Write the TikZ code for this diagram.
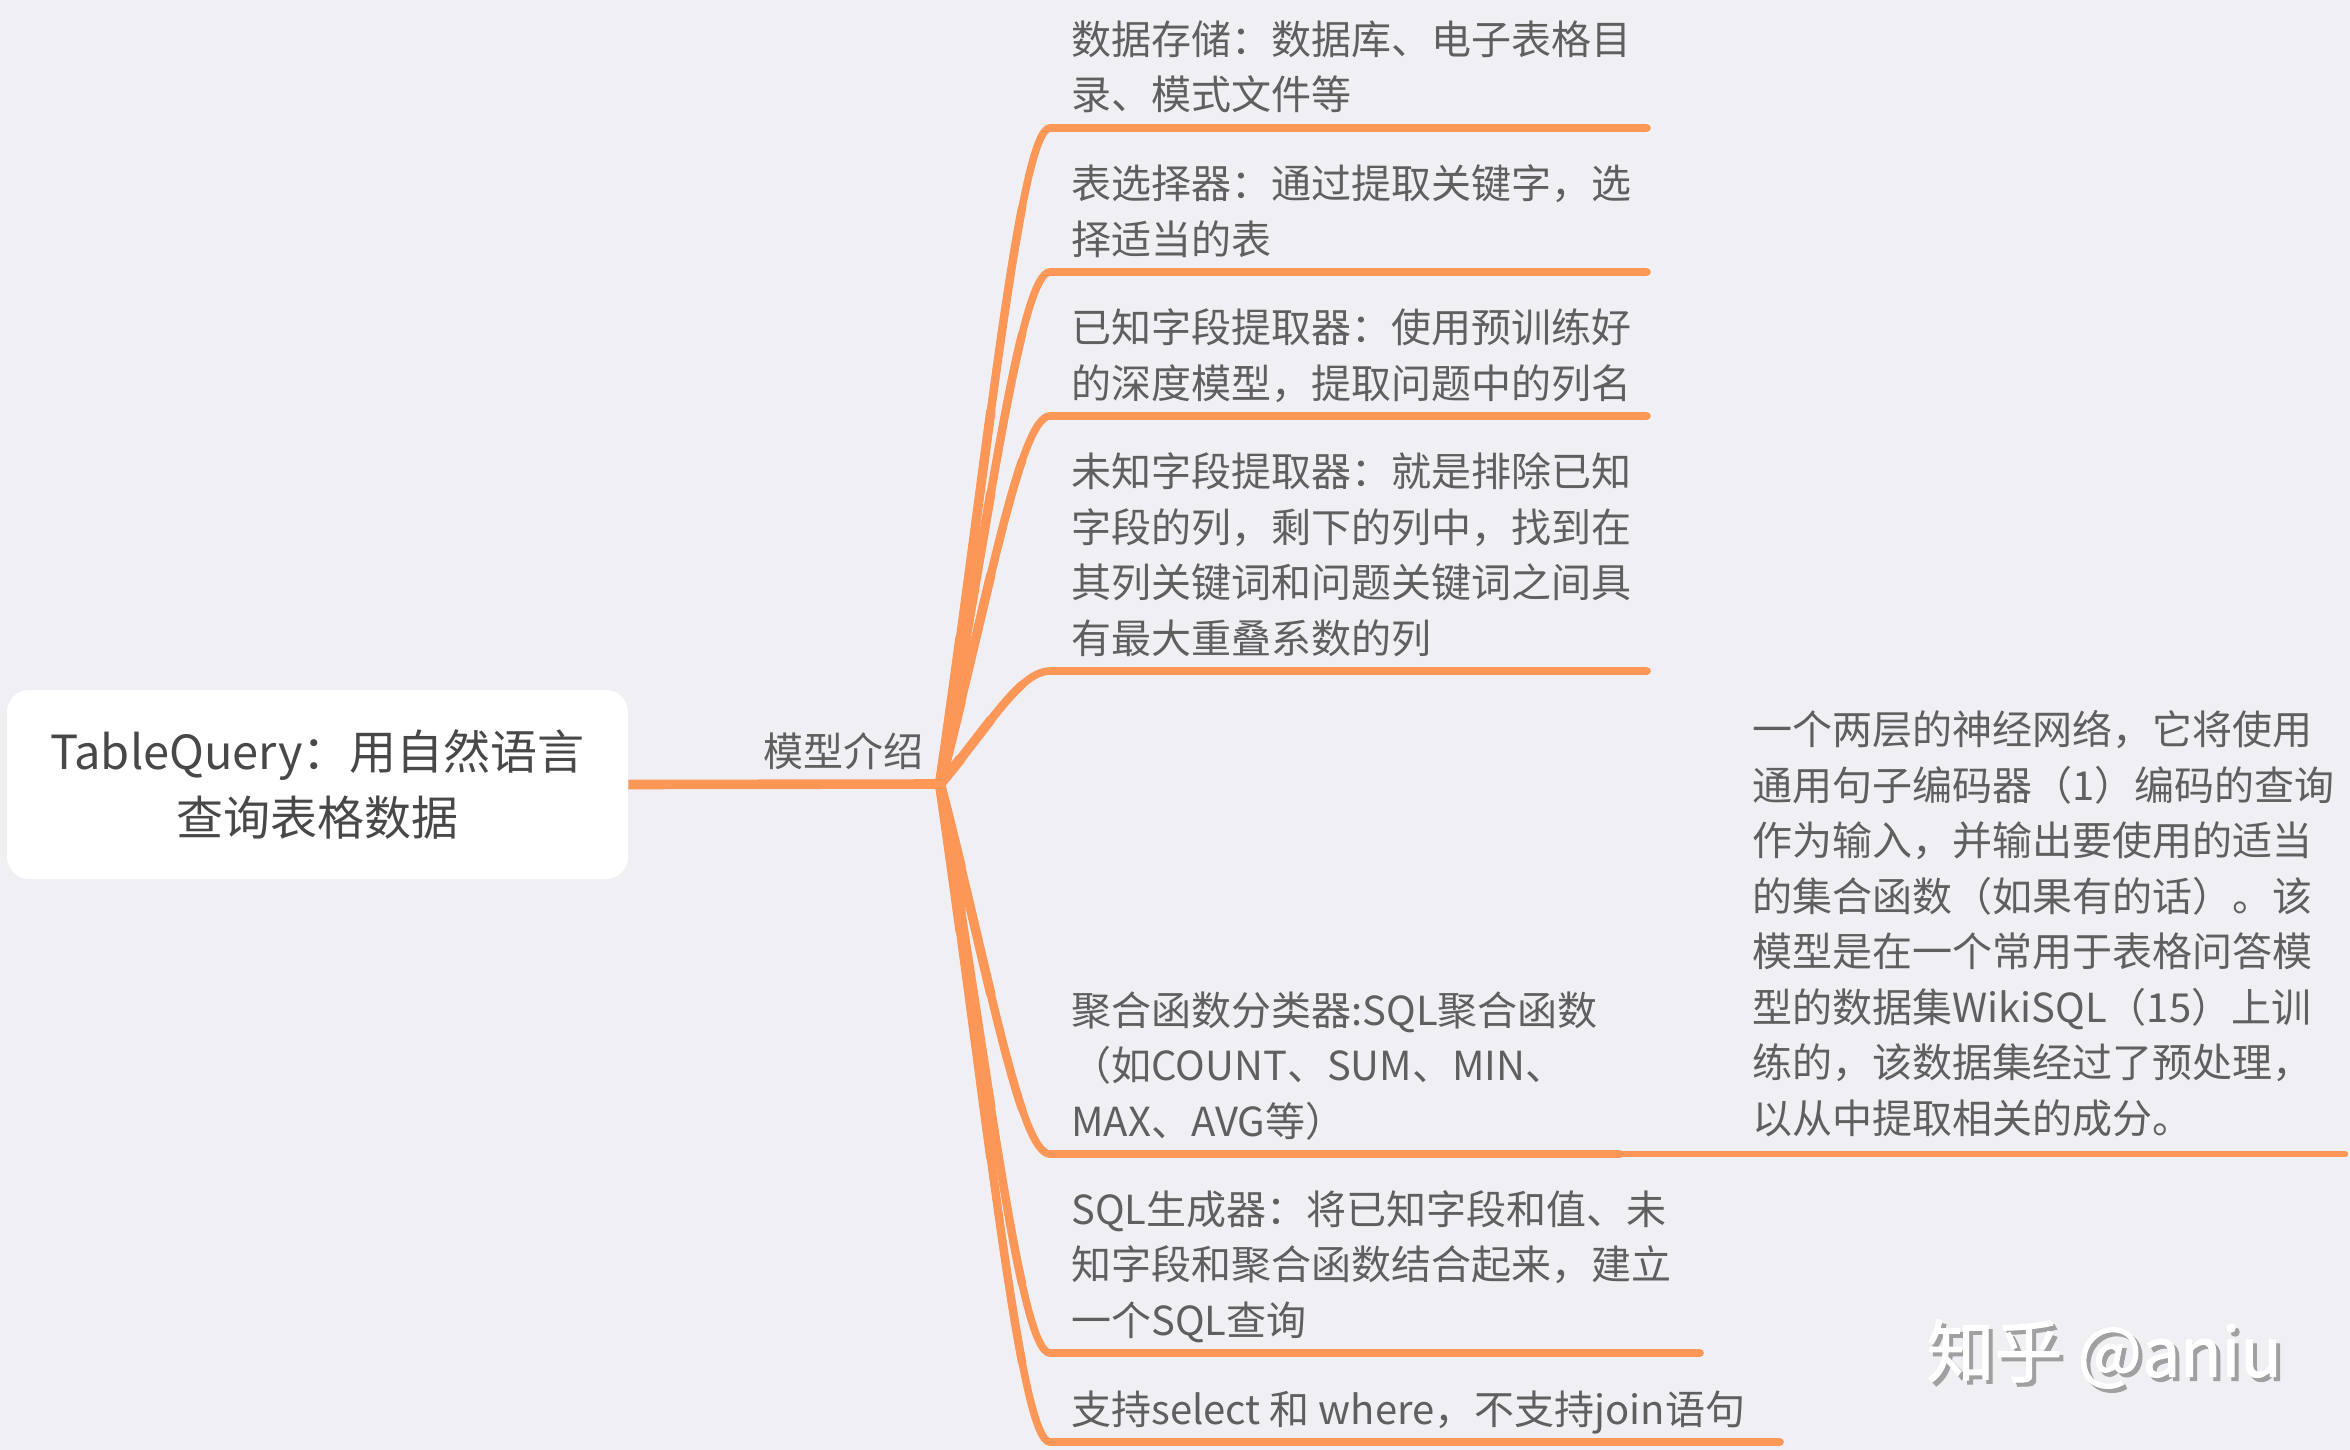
\documentclass[tikz,border=0pt]{standalone}
\usepackage{fontspec}
\usetikzlibrary{calc}
\setmainfont{Noto Sans CJK SC}
\newfontfamily\wmfont[FakeBold=1.5]{Noto Sans CJK SC}
\definecolor{bg}{RGB}{239,239,244}
\definecolor{brc}{RGB}{253,151,88}
\definecolor{txt}{RGB}{95,95,95}
\definecolor{roottxt}{RGB}{72,72,72}
\definecolor{shadowc}{RGB}{160,160,160}
\newcommand\topictext[1]{\parbox[b]{460pt}{\raggedright #1}}
% partial Bezier (first fraction #5 of curve #1..#4), drawn with line width #6
\newcommand\brpart[6]{%
  \path coordinate (qa) at ($(#1)!#5!(#2)$) coordinate (qb) at ($(#2)!#5!(#3)$)
        coordinate (qc) at ($(#3)!#5!(#4)$);
  \path coordinate (qd) at ($(qa)!#5!(qb)$) coordinate (qe) at ($(qb)!#5!(qc)$);
  \path coordinate (qf) at ($(qd)!#5!(qe)$);
  \draw[branch, line width=#6] (#1) .. controls (qa) and (qd) .. (qf);}
% full tapered branch: from P to start #1 then underline to end #2; controls #3,#4
\newcommand\taperbranch[4]{%
  \draw[branch] (P) .. controls (#3) and (#4) .. (#1) -- (#2);
  \brpart{P}{#3}{#4}{#1}{0.7}{4.2pt}
  \brpart{P}{#3}{#4}{#1}{0.4}{4.7pt}
  \brpart{P}{#3}{#4}{#1}{0.15}{5.2pt}}
\begin{document}
\begin{tikzpicture}[x=0.5pt,y=-0.5pt,
  branch/.style={draw=brc, line width=3.8pt, line cap=round},
  mainline/.style={draw=brc, line width=4.8pt},
  subline/.style={draw=brc, line width=3.2pt, line cap=round},
  topic/.style={anchor=base west, inner sep=0pt, text=txt, font=\fontsize{20pt}{27.75pt}\selectfont},
  rootbox/.style={fill=white, rounded corners=11pt, minimum width=310.5pt, minimum height=94.5pt, inner sep=0pt, align=center, text=roottxt, font=\fontsize{23.5pt}{33pt}\selectfont},
  lbl/.style={anchor=base, inner sep=0pt, text=txt, font=\fontsize{20pt}{27.75pt}\selectfont},
  wm/.style={inner sep=0pt, font=\wmfont\fontsize{34pt}{40pt}\selectfont}]
\useasboundingbox (0,0) rectangle (2350,1450);
\fill[bg] (0,0) rectangle (2350,1450);

% root
\node[rootbox] (root) at (317.5,784.5) {TableQuery：用自然语言\\查询表格数据};
\coordinate (P) at (940,784);
\draw[mainline] (root.east) -- (P);
\node[lbl] (intro) at (843,766) {模型介绍};

% branch coordinates
\coordinate (s1) at (1050,128);  \coordinate (e1) at (1647,128);
\coordinate (s2) at (1050,272);  \coordinate (e2) at (1647,272);
\coordinate (s3) at (1050,416);  \coordinate (e3) at (1647,416);
\coordinate (s4) at (1050,671);  \coordinate (e4) at (1647,671);
\coordinate (s5) at (1050,1154); \coordinate (e5) at (1620,1154);
\coordinate (s6) at (1050,1353); \coordinate (e6) at (1700,1353);
\coordinate (s7) at (1050,1442); \coordinate (e7) at (1780,1442);
\coordinate (e8) at (2345,1154);
% control points
\coordinate (a1) at (988,456);    \coordinate (b1) at (1020,128);
\coordinate (a2) at (988,528);    \coordinate (b2) at (1020,272);
\coordinate (a3) at (988,600);    \coordinate (b3) at (1020,416);
\coordinate (a4) at (988,727.5);  \coordinate (b4) at (1020,671);
\coordinate (a5) at (988,969);    \coordinate (b5) at (1020,1154);
\coordinate (a6) at (988,1068.5); \coordinate (b6) at (1020,1353);
\coordinate (a7) at (988,1113);   \coordinate (b7) at (1020,1442);

% branches
\taperbranch{s1}{e1}{a1}{b1}
\taperbranch{s2}{e2}{a2}{b2}
\taperbranch{s3}{e3}{a3}{b3}
\taperbranch{s4}{e4}{a4}{b4}
\taperbranch{s5}{e5}{a5}{b5}
\taperbranch{s6}{e6}{a6}{b6}
\taperbranch{s7}{e7}{a7}{b7}
\draw[subline] (e5) -- (e8);

% topic texts
\node[topic] (t1) at (1071,110) {\topictext{数据存储：数据库、电子表格目\\录、模式文件等}};
\node[topic] (t2) at (1071,254) {\topictext{表选择器：通过提取关键字，选\\择适当的表}};
\node[topic] (t3) at (1071,398) {\topictext{已知字段提取器：使用预训练好\\的深度模型，提取问题中的列名}};
\node[topic] (t4) at (1071,653) {\topictext{未知字段提取器：就是排除已知\\字段的列，剩下的列中，找到在\\其列关键词和问题关键词之间具\\有最大重叠系数的列}};
\node[topic] (t5) at (1071,1136) {\topictext{聚合函数分类器:SQL聚合函数\\（如COUNT、SUM、MIN、\\MAX、AVG等）}};
\node[topic] (t6) at (1071,1335) {\topictext{SQL生成器：将已知字段和值、未\\知字段和聚合函数结合起来，建立\\一个SQL查询}};
\node[topic] (t7) at (1071,1424) {\topictext{支持select 和 where，不支持join语句}};
\node[topic] (t8) at (1752,1133) {\topictext{一个两层的神经网络，它将使用\\通用句子编码器（1）编码的查询\\作为输入，并输出要使用的适当\\的集合函数（如果有的话）。该\\模型是在一个常用于表格问答模\\型的数据集WikiSQL（15）上训\\练的，该数据集经过了预处理，\\以从中提取相关的成分。}};

% watermark
\node[wm, text=shadowc] (wms) at (2108,1358) {知乎 @aniu};
\node[wm, text=white] (wmk) at (2104,1354) {知乎 @aniu};
\end{tikzpicture}
\end{document}
